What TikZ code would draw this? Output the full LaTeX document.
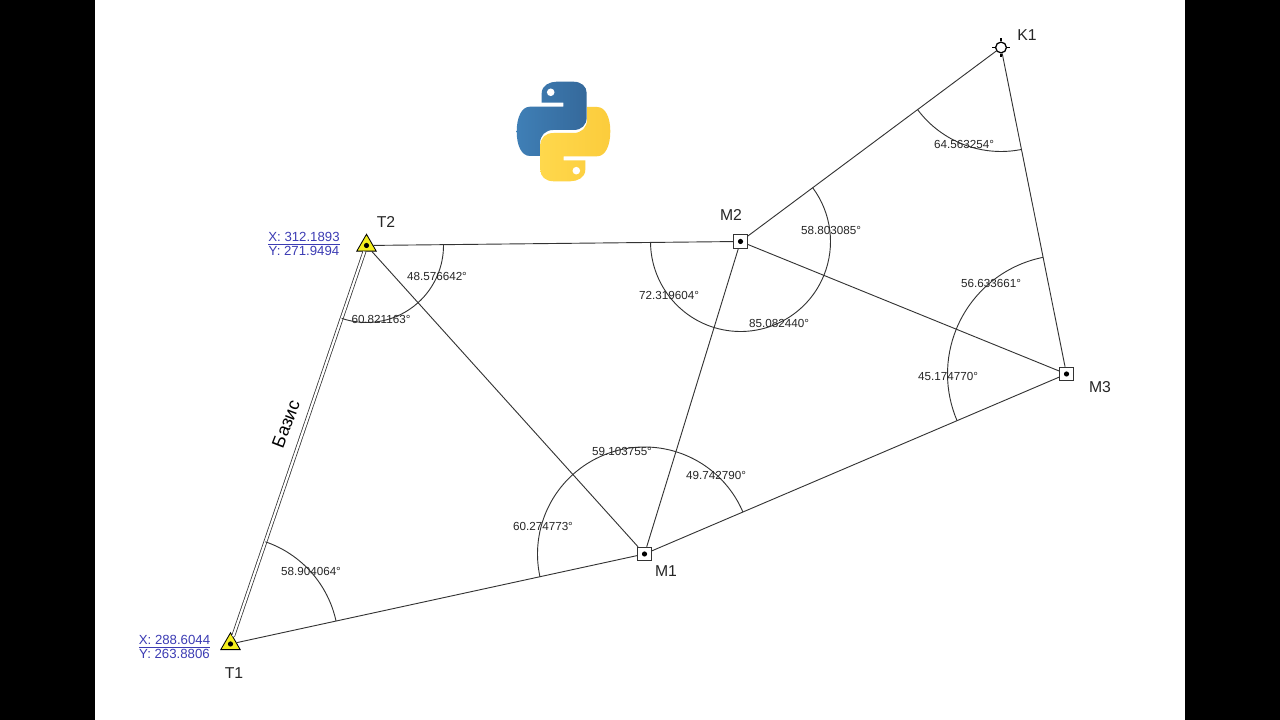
\documentclass[tikz,border=0pt]{standalone}
\usepackage{fontspec}
\setmainfont{Liberation Sans}
\usetikzlibrary{shapes.geometric, angles, positioning}
\definecolor{linecol}{HTML}{333333}
\definecolor{coordcol}{HTML}{3C3CB4}
\definecolor{markcol}{HTML}{F4EE1E}
\definecolor{pyblueA}{HTML}{3F7FB6}
\definecolor{pyblueB}{HTML}{35699B}
\definecolor{pyyellowA}{HTML}{FFD84C}
\definecolor{pyyellowB}{HTML}{FBCC3C}
\tikzset{
    fixed/.style={
        regular polygon, regular polygon sides=3, minimum size=0.56cm, inner sep=0pt, draw=black, line width=0.6pt, fill=markcol
    },
    station/.style={
        rectangle, minimum size=0.34cm, inner sep=0pt, draw=black!80, line width=0.6pt, fill=white
    },
    target/.style={
        circle, minimum size=0.27cm, inner sep=0pt, draw=black, line width=0.9pt, fill=white
    },
    ray/.style={
        draw=linecol, line width=0.65pt
    },
    baseline/.style={
        draw=linecol, line width=0.55pt, double=white, double distance=1.6pt
    },
    arcmark/.style={
        draw=linecol, line width=0.65pt, angle radius=#1*0.025cm
    },
    anglelabel/.style={
        inner sep=0pt, font=\fontsize{8.3}{10}\selectfont, text=black!85
    },
    pointlabel/.style={
        inner sep=0pt, font=\fontsize{11.2}{13}\selectfont, text=black!85
    },
    coordlabel/.style={
        inner sep=0pt, align=center, text=coordcol, font=\fontsize{9.4}{8.6}\selectfont
    },
    snake/.pic={
        \shade[left color=#1A, right color=#1B]
            (-21.8,28.8) -- (-21.8,38.2) .. controls (-21.8,46) and (-14,49.8) .. (-6.8,49.8)
            -- (9.8,49.8) .. controls (18,49.8) and (23.2,45) .. (23.2,38.2)
            -- (23.2,14.8) .. controls (23.2,6) and (18,1.5) .. (9.8,1.5)
            -- (-10.2,1.5) .. controls (-18,1.5) and (-23.5,-4) .. (-23.5,-11.8)
            -- (-23.5,-24.5) -- (-33.5,-24.5) .. controls (-42,-24.5) and (-46.8,-14) .. (-46.8,-0.2)
            .. controls (-46.8,14) and (-42,24.8) .. (-33.5,24.8)
            -- (-0.2,24.8) -- (-0.2,28.8) -- cycle;
        \fill[white] (-12.8,39.2) circle (3.8);
    }
}
\begin{document}
\begin{tikzpicture}[x=0.025cm, y=0.025cm]

    % Frame
    \fill[black] (0,0) rectangle (1280,720);
    \fill[white] (95,0) rectangle (1185,720);

    % Logo
    \pic at (563.5,588.5) {snake=pyblue};
    \pic[rotate=180] at (563.5,588.5) {snake=pyyellow};

    % Points
    \node[fixed] (T1) at (230.5,76) {};
    \node[fixed] (T2) at (366.5,474.5) {};
    \node[station] (M1) at (644.5,166) {};
    \node[station] (M2) at (740.5,478.5) {};
    \node[station] (M3) at (1066.5,346) {};
    \node[target] (K1) at (1001,672.5) {};
    \foreach \p in {T1,T2,M1,M2,M3}
        \fill[black] (\p) circle (2.6);
    \foreach \a/\d in {north/{0,3}, south/{0,-3}, east/{3,0}, west/{-3,0}}
        \draw[black, line width=0.9pt] (K1.\a) -- ++(\d);

    % Rays
    \draw[baseline] (T1) -- (T2);
    \draw[ray] (T1) -- (M1);
    \draw[ray] (T2) -- (M2);
    \draw[ray] (T2) -- (M1);
    \draw[ray] (M1) -- (M2);
    \draw[ray] (M1) -- (M3);
    \draw[ray] (M2) -- (M3);
    \draw[ray] (M2) -- (K1);
    \draw[ray] (M3) -- (K1);

    % Angle arcs
    \pic[arcmark=108] {angle=M1--T1--T2};
    \pic[arcmark=77] {angle=T1--T2--M1};
    \pic[arcmark=77] {angle=M1--T2--M2};
    \pic[arcmark=107] {angle=M3--M1--M2};
    \pic[arcmark=107] {angle=M2--M1--T2};
    \pic[arcmark=107] {angle=T2--M1--T1};
    \pic[arcmark=90] {angle=M3--M2--K1};
    \pic[arcmark=90] {angle=M1--M2--M3};
    \pic[arcmark=90] {angle=T2--M2--M1};
    \pic[arcmark=119] {angle=K1--M3--M2};
    \pic[arcmark=119] {angle=M2--M3--M1};
    \pic[arcmark=104] {angle=M2--K1--M3};

    % Angle values
    \node[anglelabel] (aT1) at (311,149) {58.904064°};
    \node[anglelabel] (aT2a) at (437,444) {48.576642°};
    \node[anglelabel] (aT2b) at (381,401) {60.821163°};
    \node[anglelabel] (aM2a) at (669,425) {72.319604°};
    \node[anglelabel] (aM2b) at (779,397) {85.082440°};
    \node[anglelabel] (aM2c) at (831,490) {58.803085°};
    \node[anglelabel] (aK1) at (964,576) {64.563254°};
    \node[anglelabel] (aM3a) at (991,437) {56.633661°};
    \node[anglelabel] (aM3b) at (948,344) {45.174770°};
    \node[anglelabel] (aM1a) at (622,269) {59.103755°};
    \node[anglelabel] (aM1b) at (716,245) {49.742790°};
    \node[anglelabel] (aM1c) at (543,194) {60.274773°};

    % Point names
    \node[pointlabel] (nT1) at (234,47) {T1};
    \node[pointlabel] (nT2) at (386,498) {T2};
    \node[pointlabel] (nM1) at (666,149) {M1};
    \node[pointlabel] (nM2) at (731,505) {M2};
    \node[pointlabel] (nM3) at (1100,333) {M3};
    \node[pointlabel] (nK1) at (1027,685) {K1};

    % Coordinates and base
    \node[coordlabel] (cT1) at (174.5,73) {\underline{X: 288.6044}\\Y: 263.8806};
    \node[coordlabel] (cT2) at (304,476) {\underline{X: 312.1893}\\Y: 271.9494};
    \node[inner sep=0pt, rotate=69, font=\fontsize{12.8}{15}\selectfont] (base) at (286,296) {Базис};

\end{tikzpicture}
\end{document}
